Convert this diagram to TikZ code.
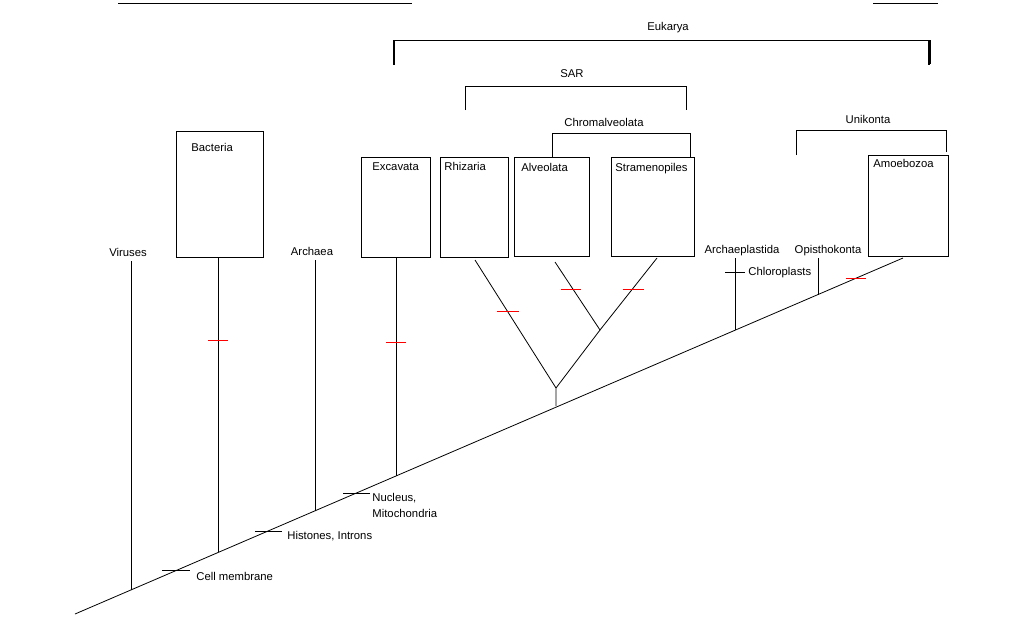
\documentclass[tikz,border=0pt]{standalone}
\usepackage{fontspec}
\setmainfont{Liberation Sans}
\begin{document}
\begin{tikzpicture}[x=1pt,y=-1pt,line width=0.8pt,
  lbl/.style={inner sep=0pt,font=\fontsize{11.3}{13}\selectfont},
  box/.style={draw},
  rt/.style={draw=red,line width=0.8pt},
  br/.style={line width=0.8pt}]
\useasboundingbox (0,0) rectangle (1024,629);
% name/section lines
\coordinate (n1) at (118,3); \coordinate (n2) at (412,3);
\coordinate (s1) at (873,3); \coordinate (s2) at (938,3);
\draw (n1)--(n2); \draw (s1)--(s2);
% main line
\coordinate (m0) at (75,614); \coordinate (m1) at (903,258);
\draw (m0)--(m1);
% boxes
\node[box,minimum width=87pt,minimum height=126pt,anchor=north west] (bact) at (176,131) {};
\node[lbl,anchor=north west] at (191,143) {Bacteria};
\node[box,minimum width=69pt,minimum height=100pt,anchor=north west] (exc) at (361,157) {};
\node[lbl,anchor=north west] at (372,162) {Excavata};
\node[box,minimum width=68pt,minimum height=100pt,anchor=north west] (rhz) at (440,157) {};
\node[lbl,anchor=north west] at (444,162) {Rhizaria};
\node[box,minimum width=75pt,minimum height=99pt,anchor=north west] (alv) at (514,157) {};
\node[lbl,anchor=north west] at (521,163) {Alveolata};
\node[box,minimum width=83pt,minimum height=99pt,anchor=north west] (str) at (611,157) {};
\node[lbl,anchor=north west] at (615,163) {Stramenopiles};
\node[box,minimum width=80pt,minimum height=101pt,anchor=north west] (amo) at (868,155) {};
\node[lbl,anchor=north west] at (873,159) {Amoebozoa};
% labels
\node[lbl] (vir) at (128,252) {Viruses};
\node[lbl] (arc) at (312,251) {Archaea};
\node[lbl] (arp) at (742,251) {Archaeplastida};
\node[lbl] (opi) at (828,251) {Opisthokonta};
% verticals
\draw (131,590)--(131,261);
\draw (218,552)--(218,257);
\draw (315,511)--(315,260);
\draw (396,476)--(396,257);
\draw (735,330)--(735,258);
\draw (818,295)--(818,258);
% SAR fork
\coordinate (f0) at (556,406); \coordinate (f1) at (556,388); \coordinate (f2) at (600,330);
\draw (f0)--(f1)--(475,260); \draw (f1)--(f2)--(555,262); \draw (f2)--(657,258);
% red ticks
\draw[rt] (208,340)--(228,340);
\draw[rt] (386,342)--(406,342);
\draw[rt] (497,311)--(519,311);
\draw[rt] (561,289)--(581,289);
\draw[rt] (623,289)--(644,289);
\draw[rt] (846,278)--(866,278);
% character ticks
\draw (725,272)--(745,272); \node[lbl,anchor=west] at (748,273) {Chloroplasts};
\draw (162,570)--(190,570); \node[lbl,anchor=west] at (196,576) {Cell membrane};
\draw (255,531)--(282,531); \node[lbl,anchor=west] at (287,536) {Histones, Introns};
\draw (343,493)--(370,493); \node[lbl,anchor=west] at (372,498) {Nucleus,};
\node[lbl,anchor=west] at (372,513) {Mitochondria};
% brackets
\draw[br] (393,64)--(393,40)--(930,40)--(930,64);
\draw[line width=2.5pt] (394,40)--(394,65); \draw[line width=2.5pt] (929,40)--(929,65);
\node[lbl] at (668,28) {Eukarya};
\draw[br] (465,110)--(465,86)--(686,86)--(686,110);
\node[lbl] at (572,74) {SAR};
\draw[br] (552,157)--(552,133)--(690,133)--(690,157);
\node[lbl] at (604,122) {Chromalveolata};
\draw[br] (796,155)--(796,130)--(946,130)--(946,152);
\node[lbl] at (868,119) {Unikonta};
\end{tikzpicture}
\end{document}
